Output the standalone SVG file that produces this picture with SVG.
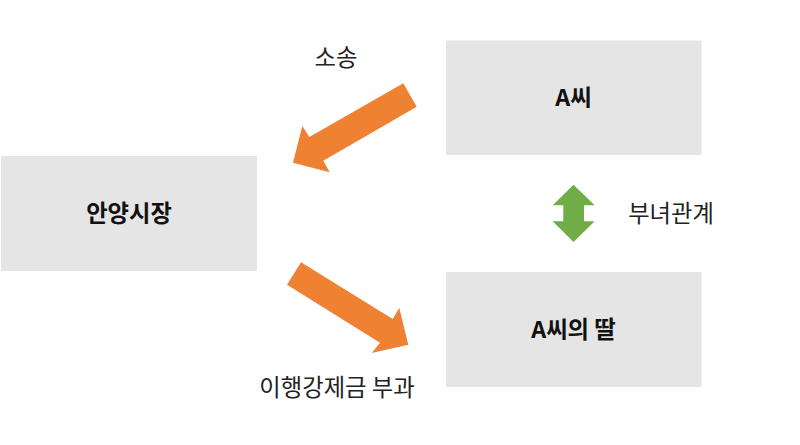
<svg xmlns="http://www.w3.org/2000/svg" width="800" height="445" viewBox="0 0 800 445">
<style>
.box{fill:#e5e5e5}
.b{font-family:"Noto Sans CJK KR","Liberation Sans",sans-serif;font-size:23.3px;font-weight:700;fill:#111;text-anchor:middle}
.l{font-family:"Noto Sans CJK KR","Liberation Sans",sans-serif;font-size:23.3px;font-weight:400;fill:#222;text-anchor:middle}
.o{fill:#ef8133}
.g{fill:#70ad47}
</style>
<rect width="800" height="445" fill="#fff"/>
<g id="connectors">
<polygon class="o" points="403.3,83.3 416.7,106.7 323.3,160.7 329.7,172.3 293,162.7 302.3,126 309.3,137"/>
<polygon class="o" points="301,262.3 287,284.7 380,342.7 371.7,353 408.3,344.7 399.3,308 392.7,319"/>
<polygon class="g" points="573.5,184.7 594.7,205.3 584,205.3 584,221.3 594.7,221.3 573.5,242 552.7,221.3 563.3,221.3 563.3,205.3 552.7,205.3"/>
</g>
<g id="node-mayor"><rect class="box" x="1" y="156" width="256" height="115"/><text class="b" x="129" y="222">안양시장</text></g>
<g id="node-a"><rect class="box" x="446" y="40.500" width="255.500" height="114.500"/><text class="b" x="573.500" y="106">A씨</text></g>
<g id="node-daughter"><rect class="box" x="446" y="272" width="255.500" height="115"/><text class="b" x="573.500" y="338">A씨의 딸</text></g>
<g id="labels">
<text class="l" x="336" y="66">소송</text>
<text class="l" x="671" y="222">부녀관계</text>
<text class="l" x="337" y="396">이행강제금 부과</text>
</g>
</svg>
